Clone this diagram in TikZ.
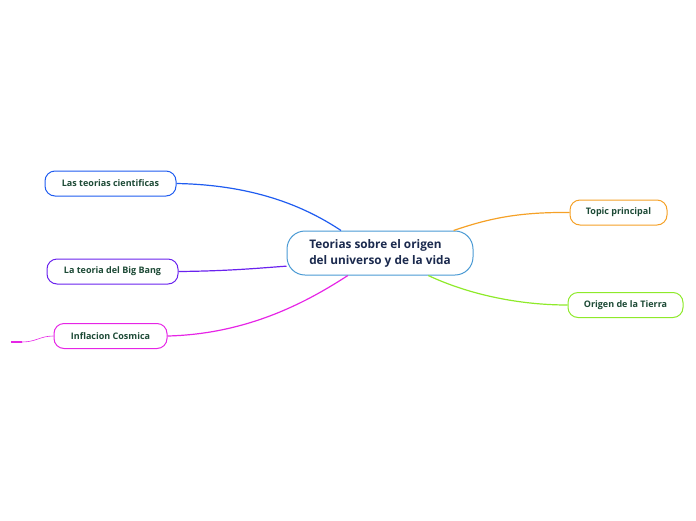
\documentclass[tikz,border=0pt]{standalone}
\usepackage{fontspec}
\setmainfont{Open Sans}
\definecolor{navy}{HTML}{1B2A4E}
\definecolor{leaftext}{HTML}{1D4A36}
\definecolor{rootline}{HTML}{4A9AD4}
\definecolor{cblue}{HTML}{1F5CF0}
\definecolor{cpurple}{HTML}{6A22EE}
\definecolor{cmagenta}{HTML}{E625E6}
\definecolor{corange}{HTML}{F5A127}
\definecolor{cgreen}{HTML}{8EEA2A}
\tikzset{
  rootbox/.style={draw=rootline, line width=1pt, rounded corners=18pt, fill=white,
    minimum width=186pt, minimum height=44pt, align=left, text=navy,
    font=\fontsize{11.8}{16}\selectfont\bfseries},
  leaf/.style={draw=#1, line width=1pt, rounded corners=10pt, fill=white,
    minimum height=25pt, text=leaftext, font=\fontsize{9}{11}\selectfont\bfseries},
  branch/.style={draw=#1, line width=1.2pt}
}
\begin{document}
\begin{tikzpicture}[x=1pt, y=-1pt]
		\useasboundingbox (0,0) rectangle (696,520);
		\node[rootbox] (root) at (380,253) {Teorias sobre el origen\\del universo y de la vida};
		
		\node[leaf=cblue, minimum width=131pt] (lt) at (110.5,183.5) {Las teorias cientificas};
		\node[leaf=cpurple, minimum width=131pt] (bb) at (112.5,271.5) {La teoria del Big Bang};
		\node[leaf=cmagenta, minimum width=113pt] (ic) at (110.5,336) {Inflacion Cosmica};
		\node[leaf=corange, minimum width=97pt] (tp) at (618.5,212.5) {Topic principal};
		\node[leaf=cgreen, minimum width=115pt] (ot) at (625.5,305) {Origen de la Tierra};
		
		\draw[branch=cblue] (lt.east) .. controls (260,185) and (310,210) .. (root.150);
		\draw[branch=cpurple] (bb.east) .. controls (230,271) and (260,268) .. (root.188);
		\draw[branch=cmagenta] (ic.east) .. controls (250,334) and (310,300) .. (root.215);
		\draw[branch=corange] (root.17) .. controls (490,218) and (520,212) .. (tp.west);
		\draw[branch=cgreen] (root.335) .. controls (470,295) and (520,305) .. (ot.west);
		
		\coordinate (tail) at (22,342);
		\draw[cmagenta, line width=0.6pt] (ic.west) .. controls (40,336) and (36,342) .. (tail);
		\draw[cmagenta, line width=1.6pt] (tail) -- (11,342);
\end{tikzpicture}
\end{document}
